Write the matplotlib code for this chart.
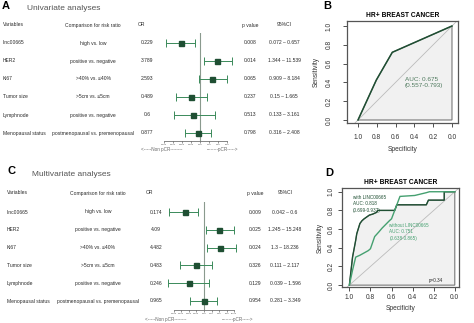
import numpy as np
import matplotlib
matplotlib.use('Agg')
import matplotlib.pyplot as plt
from matplotlib.ticker import FixedLocator, NullLocator

plt.rcParams['font.family'] = ['Liberation Sans', 'DejaVu Sans']

W, H = 474, 323

# ---- univariate logistic regression ----
uni_vars = ['linc00665', 'HER2', 'Ki67', 'Tumor size', 'Lymphnode', 'Menopausal status']
uni_comp = ['high vs. low', 'positive vs. negative', '>40% vs. \u226440%', '>5cm vs. \u22645cm',
            'positive vs. negative', 'postmenopausal vs. premenopausal']
uni_or = [0.229, 3.789, 2.593, 0.489, 0.6, 0.877]
uni_lo = [0.072, 1.344, 0.909, 0.15, 0.133, 0.316]
uni_hi = [0.657, 11.539, 8.184, 1.665, 3.161, 2.408]
uni_p = ['0.008', '0.014', '0.065', '0.237', '0.513', '0.798']

# ---- multivariate logistic regression ----
multi_vars = uni_vars
multi_comp = uni_comp
multi_or = [0.174, 4.09, 4.482, 0.483, 0.246, 0.965]
multi_lo = [0.042, 1.245, 1.3, 0.111, 0.039, 0.281]
multi_hi = [0.6, 15.248, 18.236, 2.117, 1.596, 3.349]
multi_p = ['0.009', '0.025', '0.024', '0.326', '0.129', '0.954']

# ---- ROC, lncRNA alone ----
b_spec = [1.0, 0.805, 0.635, 0.0]
b_sens = [0.0, 0.425, 0.72, 1.0]

# ---- ROC, clinical model with / without LINC00665 ----
with_spec = [1.0, 0.97, 0.94, 0.93, 0.90, 0.88, 0.86, 0.81, 0.78, 0.74, 0.73, 0.57, 0.55,
             0.38, 0.27, 0.25, 0.10, 0.10, 0.0]
with_sens = [0.0, 0.30, 0.48, 0.55, 0.66, 0.69, 0.71, 0.75, 0.76, 0.78, 0.80, 0.80, 0.86,
             0.86, 0.86, 0.91, 0.91, 1.0, 1.0]
without_spec = [1.0, 0.97, 0.94, 0.90, 0.82, 0.80, 0.76, 0.72, 0.69, 0.62, 0.60, 0.57, 0.52,
                0.38, 0.27, 0.24, 0.0]
without_sens = [0.0, 0.16, 0.30, 0.32, 0.37, 0.39, 0.52, 0.57, 0.61, 0.69, 0.71, 0.80, 0.95,
                0.96, 0.99, 1.0, 1.0]

DARK = '#1f4f33'
MID = '#3a8a5a'
LIGHT = '#45a070'
TXT = '#2a2a2a'

fig = plt.figure(figsize=(W / 100, H / 100), dpi=100)


def px_axes(l, t, r, b):
    return fig.add_axes([l / W, 1 - b / H, (r - l) / W, (b - t) / H])


def ptxt(x, y, s, **kw):
    kw.setdefault('va', 'center')
    kw.setdefault('color', TXT)
    kw.setdefault('fontsize', 3.6)
    fig.text(x / W, 1 - y / H, s, **kw)


def forest_table(title, tx, ty, hy, y0, step, cols, names, comps, ors, lo, hi, pvals):
    x_var, x_cmp, x_or, x_p, x_ci = cols
    ptxt(tx, ty, title, fontsize=6, color='#555555')
    ptxt(x_var, hy, 'Variables', ha='left')
    ptxt(x_cmp, hy, 'Comparison for risk ratio', ha='center')
    ptxt(x_or, hy, 'OR', ha='center')
    ptxt(x_p, hy, 'p value', ha='center')
    ptxt(x_ci, hy, '95%CI', ha='center')
    for i in range(len(names)):
        y = y0 + i * step
        ptxt(x_var, y, names[i], ha='left')
        ptxt(x_cmp, y, comps[i], ha='center')
        ptxt(x_or + 6, y, '{:g}'.format(ors[i]), ha='center')
        ptxt(x_p, y, pvals[i], ha='center')
        ptxt(x_ci, y, '{:g} \u2013 {:g}'.format(lo[i], hi[i]), ha='center')


def forest_plot(l, r, top, y0, step, axis_y, ref_x, px_dbl, tick_hi, ors, lo, hi):
    ax = px_axes(l, top, r, axis_y)
    n = len(ors)
    ax.set_xscale('log', base=2)
    ax.set_xlim(2 ** ((l - ref_x) / px_dbl), 2 ** ((r - ref_x) / px_dbl))
    ax.set_ylim((axis_y - y0) / step, (top - y0) / step)
    ax.axvline(1, color='#8a9a8e', lw=0.8, zorder=1)
    ypos = np.arange(n)
    ax.errorbar(ors, ypos, xerr=[np.array(ors) - np.array(lo), np.array(hi) - np.array(ors)],
                fmt='s', color=MID, ecolor=MID, elinewidth=0.7, capsize=2.6, capthick=0.7,
                markersize=3.6, markerfacecolor=DARK, markeredgecolor=DARK, zorder=3)
    for s in ['top', 'right', 'left']:
        ax.spines[s].set_visible(False)
    ax.patch.set_visible(False)
    ticks = [2.0 ** k for k in range(-4, int(np.log2(tick_hi)) + 1)]
    ax.spines['bottom'].set_bounds(ticks[0], ticks[-1])
    ax.spines['bottom'].set_linewidth(0.5)
    ax.spines['bottom'].set_color('#555555')
    ax.xaxis.set_major_locator(FixedLocator(ticks))
    ax.xaxis.set_minor_locator(NullLocator())
    ax.set_xticklabels(['{:.3f}'.format(t) if t < 1 else '{:.2f}'.format(t) for t in ticks])
    ax.tick_params(axis='x', labelsize=1.7, length=1.5, width=0.4, pad=0.8, colors='#444444')
    ax.set_yticks([])
    return ax


# A: univariate
fig.text(2 / W, 1 - 6 / H, 'A', fontsize=8, fontweight='bold', va='center')
forest_table('Univariate analyses', 27, 8, 25, 43, 18, (3, 93, 141, 250, 284),
             uni_vars, uni_comp, uni_or, uni_lo, uni_hi, uni_p)
forest_plot(155, 240, 33, 43, 18, 141, 200, 8.95, 8, uni_or, uni_lo, uni_hi)
ptxt(182, 150, '<-----Non pCR--------', ha='right', color='#666666', fontsize=3.3)
ptxt(207, 150, '--------pCR----->', ha='left', color='#666666', fontsize=3.3)

# C: multivariate
fig.text(7 / W, 1 - 171 / H, 'C', fontsize=8, fontweight='bold', va='center')
forest_table('Multivariate analyses', 32, 175, 193, 212, 17.8, (7, 98, 150, 255, 285),
             multi_vars, multi_comp, multi_or, multi_lo, multi_hi, multi_p)
forest_plot(155, 245, 202, 212, 17.8, 310, 204, 7.6, 16, multi_or, multi_lo, multi_hi)
ptxt(186, 319, '<-----Non pCR--------', ha='right', color='#666666', fontsize=3.3)
ptxt(222, 319, '--------pCR----->', ha='left', color='#666666', fontsize=3.3)


def roc_axes(l, t, r, b, xlim, ylim, xpad, ypad, xlp, ylp):
    ax = px_axes(l, t, r, b)
    ax.set_xlim(*xlim)
    ax.set_ylim(*ylim)
    for s in ax.spines.values():
        s.set_color('#555555')
        s.set_linewidth(0.9)
    ax.set_xticks([1.0, 0.8, 0.6, 0.4, 0.2, 0.0])
    ax.set_yticks([0.0, 0.2, 0.4, 0.6, 0.8, 1.0])
    ax.set_xticklabels(['1.0', '0.8', '0.6', '0.4', '0.2', '0.0'])
    ax.set_yticklabels(['0.0', '0.2', '0.4', '0.6', '0.8', '1.0'], rotation=90, va='center')
    ax.tick_params(labelsize=4.8, length=2.6, width=0.6, colors='#333333')
    ax.tick_params(axis='x', pad=xpad)
    ax.tick_params(axis='y', pad=ypad)
    ax.set_xlabel('Specificity', fontsize=4.8, labelpad=xlp, color='#333333')
    ax.set_ylabel('Sensitivity', fontsize=4.8, labelpad=ylp, color='#333333')
    ax.set_title('HR+ BREAST CANCER', fontsize=4.8, fontweight='bold', pad=3)
    ax.axline((1, 0), (0, 1), color='#bbbbbb', lw=0.6, zorder=1)
    return ax


# B: ROC of LINC00665 alone
fig.text(323 / W, 1 - 6 / H, 'B', fontsize=8, fontweight='bold', va='center')
axb = roc_axes(347, 21, 458, 123, (1.117, -0.064), (-0.032, 1.053), 5.5, 7.5, 3.5, 4.5)
axb.fill(b_spec + [0.0, 1.0], b_sens + [0.0, 0.0], facecolor='#f1f1f1',
         edgecolor='#777777', lw=0.8, zorder=0.5)
axb.plot(b_spec, b_sens, color=DARK, lw=1.1, zorder=3)
axb.text(0.5, 0.4, 'AUC: 0.675\n(0.557-0.793)', fontsize=4.6, color='#4f7a5e',
         ha='left', va='center', linespacing=1.3)

# D: ROC with and without LINC00665
fig.text(325 / W, 1 - 173 / H, 'D', fontsize=8, fontweight='bold', va='center')
axd = roc_axes(342, 188, 459, 287, (1.07, -0.04), (-0.02, 1.04), 2.5, 2.5, 3, 3)
axd.fill(with_spec + [0.0, 1.0], with_sens + [0.0, 0.0], facecolor='#f1f1f1',
         edgecolor='#777777', lw=0.8, zorder=0.5)
axd.plot(with_spec, with_sens, color=DARK, lw=1.0, zorder=3)
axd.plot(without_spec, without_sens, color=LIGHT, lw=1.0, zorder=3)
axd.text(0.97, 0.87, 'with LINC00665\nAUC: 0.818\n(0.699-0.937)', fontsize=3.3,
         color=DARK, ha='left', va='center', linespacing=1.3)
axd.text(0.62, 0.57, 'without LINC00665\nAUC: 0.751\n(0.638-0.865)', fontsize=3.3,
         color=LIGHT, ha='left', va='center', linespacing=1.3)
axd.text(0.25, 0.05, 'p=0.34', fontsize=3.3, color=TXT, ha='left', va='center')

fig.savefig('out.png', dpi=100)
